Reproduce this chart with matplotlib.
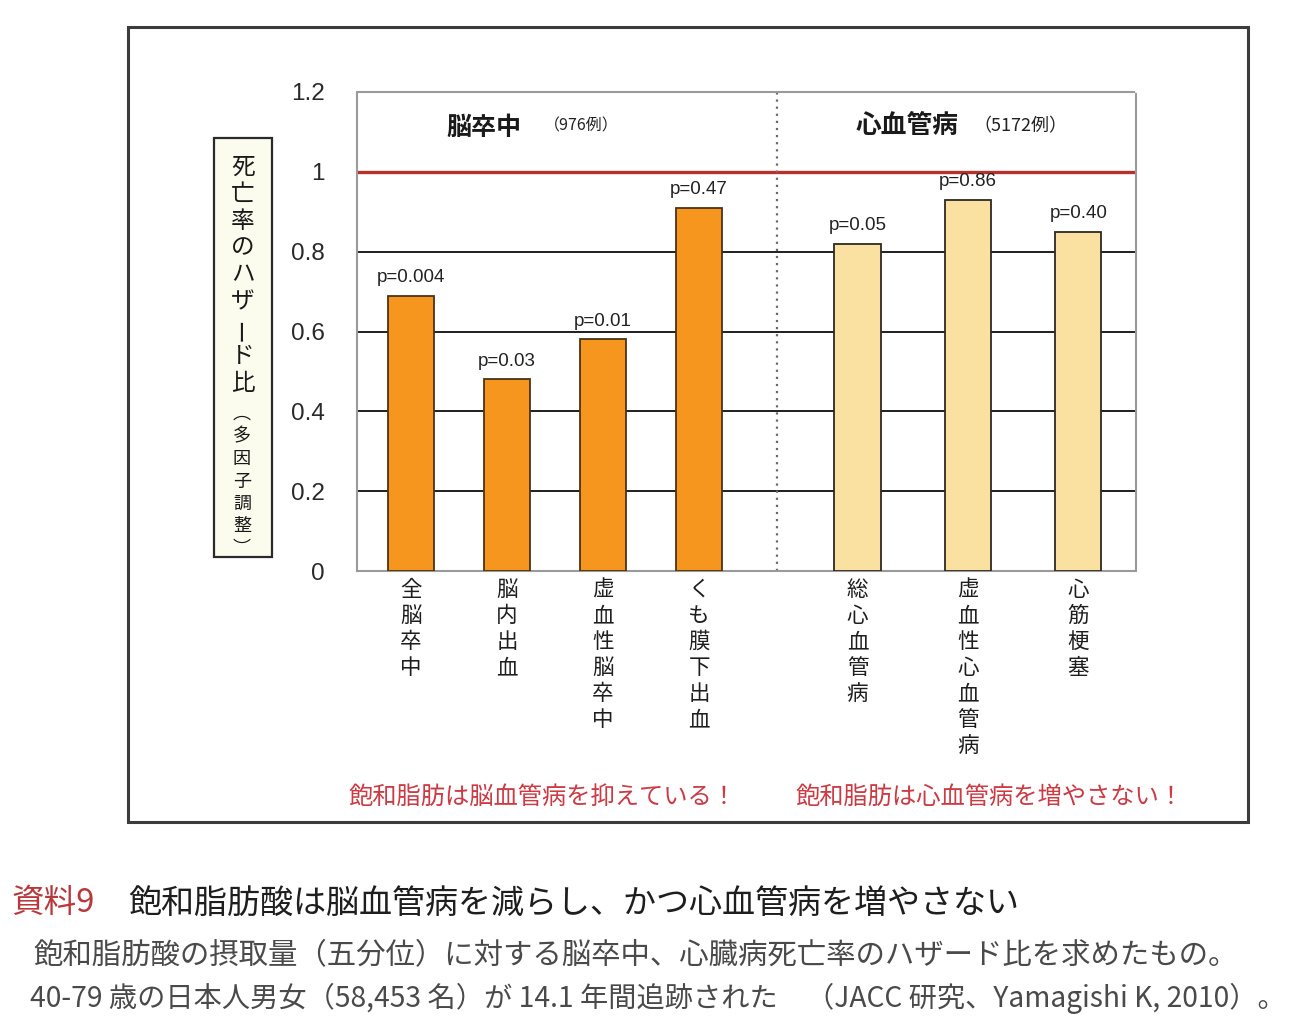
import numpy as np
import matplotlib
matplotlib.use("Agg")
import matplotlib.pyplot as plt
from matplotlib.patches import Rectangle

# ---------------- data ----------------
categories = ['全脳卒中', '脳内出血', '虚血性脳卒中', 'くも膜下出血',
              '総心血管病', '虚血性心血管病', '心筋梗塞']
hazard_ratio = [0.69, 0.48, 0.58, 0.91, 0.82, 0.93, 0.85]
p_labels = ['p=0.004', 'p=0.03', 'p=0.01', 'p=0.47', 'p=0.05', 'p=0.86', 'p=0.40']
groups = ['stroke'] * 4 + ['cvd'] * 3
group_titles = ['脳卒中', '心血管病']
group_counts = ['（976例）', '（5172例）']
ytick_values = [0, 0.2, 0.4, 0.6, 0.8, 1.0, 1.2]
ytick_labels = ['0', '0.2', '0.4', '0.6', '0.8', '1', '1.2']
ylabel_main = '死亡率のハザード比'
ylabel_sub = '︵多因子調整︶'
notes = ['飽和脂肪は脳血管病を抑えている！', '飽和脂肪は心血管病を増やさない！']
caption_tag = '資料9'
caption_title = '飽和脂肪酸は脳血管病を減らし、かつ心血管病を増やさない'
caption_line1 = '飽和脂肪酸の摂取量（五分位）に対する脳卒中、心臓病死亡率のハザード比を求めたもの。'
caption_line2 = '40-79 歳の日本人男女（58,453 名）が 14.1 年間追跡された　（JACC 研究、Yamagishi K, 2010）。'

# ---------------- style ----------------
CJK = ['Noto Sans CJK JP', 'DejaVu Sans']
LAT = ['Liberation Sans', 'DejaVu Sans']
plt.rcParams['font.family'] = CJK
colors = {'stroke': '#F7961F', 'cvd': '#FAE1A2'}
edges = {'stroke': '#4a3418', 'cvd': '#2e2a22'}

W, H = 1300, 1034
fig = plt.figure(figsize=(W / 100, H / 100), dpi=100)
fig.patch.set_facecolor('white')


def fx(x):
    return x / W


def fy(y):
    return 1 - y / H


# outer frame
fig.patches.append(Rectangle((fx(128), fy(822)), (1248 - 128) / W, (822 - 27) / H,
                             transform=fig.transFigure, fill=False,
                             edgecolor='#3c3c3c', linewidth=2.2, zorder=0))

ax = fig.add_axes([fx(357), fy(571), (1136 - 357) / W, (571 - 92) / H])

# bar positions (layout): two groups with different spacing
x = np.concatenate([np.arange(4), 4.65 + 1.15 * np.arange(3)])
divider_x = 3.81

ax.set_xlim(-0.5625, 7.55)
ax.set_ylim(0, 1.2)

# grid lines
for v in ytick_values[1:5]:
    ax.axhline(v, color='#1e1e1e', lw=1.4, zorder=1)
ax.axhline(1.0, color='#b8302a', lw=2.4, zorder=1)
ax.axvline(divider_x, color='#6a6a6a', lw=1.6, ls=(0, (1, 2.2)), zorder=1)

bar_colors = [colors[g] for g in groups]
bar_edges = [edges[g] for g in groups]
bars = ax.bar(x, hazard_ratio, width=0.48, color=bar_colors,
              edgecolor=bar_edges, linewidth=1.3, zorder=3)

# p-value labels
for xi, hr, pl in zip(x, hazard_ratio, p_labels):
    ax.annotate(pl, xy=(xi, hr), xytext=(0, 7), textcoords='offset points',
                ha='center', va='bottom', fontsize=13.5, family=LAT, color='#222222')

# group titles
ax.text(1.15, 1.11, group_titles[0], ha='right', va='center', fontsize=18,
        fontweight='bold', color='#1a1a1a')
ax.text(1.38, 1.115, group_counts[0], ha='left', va='center', fontsize=11.5,
        color='#222222')
ax.text(5.70, 1.115, group_titles[1], ha='right', va='center',
        fontsize=18.5, fontweight='bold', color='#1a1a1a')
ax.text(5.86, 1.115, group_counts[1], ha='left', va='center', fontsize=13,
        color='#222222')

# spines
for s in ax.spines.values():
    s.set_linestyle((0, (1, 1)))
    s.set_color('#9a9a9a')
    s.set_linewidth(1.5)

ax.set_yticks(ytick_values)
ax.set_yticklabels(ytick_labels, family=LAT, fontsize=17.5, color='#2a2a2a')
ax.tick_params(axis='y', length=0, pad=23)
ax.set_xticks([])

# vertical x labels
first_off = 19 * 0.72
pitch = 26 * 0.72
for xi, cat in zip(x, categories):
    for k, ch in enumerate(cat):
        ax.annotate(ch, xy=(xi, 0), xycoords=('data', 'axes fraction'),
                    xytext=(0, -(first_off + k * pitch)), textcoords='offset points',
                    ha='center', va='center', fontsize=15.5, color='#1e1e1e',
                    annotation_clip=False)

# y-label box with vertical text
fig.patches.append(Rectangle((fx(214), fy(557)), (272 - 214) / W, (557 - 138) / H,
                             transform=fig.transFigure, facecolor='#fbfbee',
                             edgecolor='#2a2a2a', linewidth=1.6, zorder=1))
for k, ch in enumerate(ylabel_main):
    rot = 90 if ch == 'ー' else 0
    fig.text(fx(243), fy(167 + 27 * k), ch, ha='center', va='center',
             fontsize=17, color='#1a1a1a', rotation=rot, zorder=2)
for k, ch in enumerate(ylabel_sub):
    fig.text(fx(242), fy(414 + 22.5 * k), ch, ha='center', va='center',
             fontsize=13, color='#1a1a1a', zorder=2)

# red notes
fig.text(fx(543), fy(797), notes[0], ha='center', va='center', fontsize=17.5,
         color='#cc3a44', style='italic')
fig.text(fx(990), fy(797), notes[1], ha='center', va='center', fontsize=17.5,
         color='#cc3a44', style='italic')

# caption
fig.text(fx(12), fy(903), caption_tag, ha='left', va='center', fontsize=23.5,
         color='#b8383c')
fig.text(fx(128), fy(903), caption_title, ha='left', va='center', fontsize=23.8,
         color='#1e1e1e')
fig.text(fx(33), fy(956), caption_line1, ha='left', va='center', fontsize=21.2,
         color='#4a4a4a', style='italic')
fig.text(fx(30), fy(998), caption_line2, ha='left', va='center', fontsize=20.3,
         color='#4a4a4a', style='italic')

fig.savefig('out.png', dpi=100, facecolor='white')
